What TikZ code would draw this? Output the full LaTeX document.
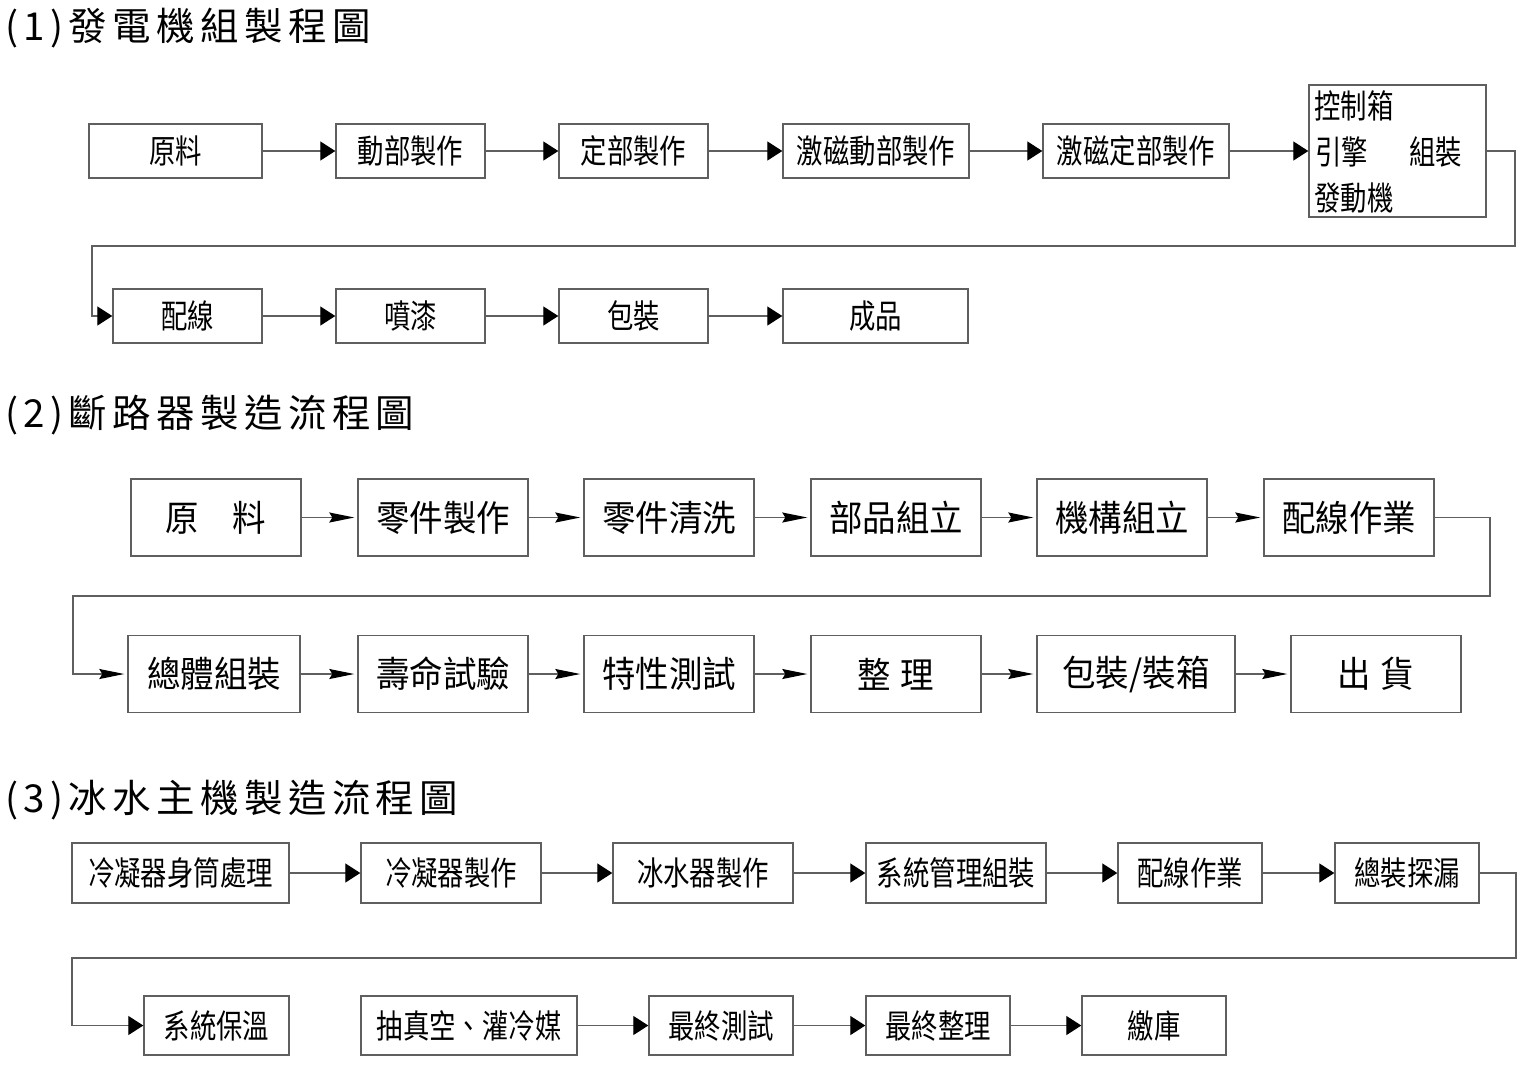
\documentclass[tikz,border=0pt]{standalone}
\usepackage{fontspec}
\usetikzlibrary{arrows.meta}
\newfontfamily\fa[FakeStretch=0.80]{Noto Sans CJK TC}
\newfontfamily\fb[FakeStretch=0.93]{Noto Sans CJK TC}
\newfontfamily\ft[LetterSpace=14]{Noto Sans CJK TC}
\definecolor{lineg}{RGB}{95,95,95}
\begin{document}
\begin{tikzpicture}[x=1pt,y=-1pt,
  box/.style={draw=lineg, line width=1.4pt, inner sep=0pt, fill=white},
  sa/.style={box, minimum height=54pt, font=\fa\fontsize{33}{36}\selectfont},
  sb/.style={box, minimum height=77pt, font=\fb\fontsize{36}{40}\selectfont},
  sc/.style={box, minimum height=60pt, font=\fa\fontsize{33}{36}\selectfont},
  plain/.style={inner sep=0pt, font=\fa\fontsize{33}{36}\selectfont},
  ttl/.style={inner sep=0pt, anchor=west, font=\ft\fontsize{38.5}{42}\selectfont},
  conn/.style={draw=lineg, line width=1.3pt},
  arrA/.style={conn, -{Triangle[length=15pt,width=19pt,fill=black,color=black]}},
  arrB/.style={conn, -{Stealth[length=25pt,width=10pt,inset=3pt,fill=black,color=black]}, shorten >=3pt}
]
\useasboundingbox[fill=white] (0,0) rectangle (1536,1080);

% ---------- (1) ----------
\node[ttl] (T1) at (5,28) {(1)發電機組製程圖};
\node[sa, minimum width=173pt] (A1) at (175.5,151) {原料};
\node[sa, minimum width=149pt] (A2) at (410.5,151) {動部製作};
\node[sa, minimum width=149pt] (A3) at (633.5,151) {定部製作};
\node[sa, minimum width=186pt] (A4) at (876,151) {激磁動部製作};
\node[sa, minimum width=186pt] (A5) at (1136,151) {激磁定部製作};
\node[box, minimum width=177pt, minimum height=132pt] (A6) at (1397.5,151) {};
\node[plain, anchor=west] (A6a) at (1314,106) {控制箱};
\node[plain, anchor=west] (A6b) at (1315,152) {引擎};
\node[plain, anchor=west] (A6c) at (1409,152) {組裝};
\node[plain, anchor=west] (A6d) at (1314,198) {發動機};

\node[sa, minimum width=149pt] (B1) at (187.5,316) {配線};
\node[sa, minimum width=149pt] (B2) at (410.5,316) {噴漆};
\node[sa, minimum width=149pt] (B3) at (633.5,316) {包裝};
\node[sa, minimum width=185pt] (B4) at (875.5,316) {成品};

\draw[arrA] (A1) -- (A2);
\draw[arrA] (A2) -- (A3);
\draw[arrA] (A3) -- (A4);
\draw[arrA] (A4) -- (A5);
\draw[arrA] (A5) -- (A6.west |- A5);
\coordinate (k1a) at (1515,246);
\coordinate (k1b) at (92,246);
\draw[arrA] (A6.east) -| (k1a) -- (k1b) |- (B1.west);
\draw[arrA] (B1) -- (B2);
\draw[arrA] (B2) -- (B3);
\draw[arrA] (B3) -- (B4);

% ---------- (2) ----------
\node[ttl] (T2) at (5,415) {(2)斷路器製造流程圖};
\node[sb, minimum width=170pt] (C1) at (216,517.5) {原　料};
\node[sb, minimum width=170pt] (C2) at (443,517.5) {零件製作};
\node[sb, minimum width=170pt] (C3) at (669,517.5) {零件清洗};
\node[sb, minimum width=170pt] (C4) at (896,517.5) {部品組立};
\node[sb, minimum width=170pt] (C5) at (1122,517.5) {機構組立};
\node[sb, minimum width=170pt] (C6) at (1349,517.5) {配線作業};

\node[sb, minimum width=172pt] (D1) at (214,674) {總體組裝};
\node[sb, minimum width=170pt] (D2) at (443,674) {壽命試驗};
\node[sb, minimum width=170pt] (D3) at (669,674) {特性測試};
\node[sb, minimum width=170pt] (D4) at (896,674) {整\hspace{10pt}理};
\node[sb, minimum width=198pt] (D5) at (1136,674) {包裝/裝箱};
\node[sb, minimum width=170pt] (D6) at (1376,674) {出\hspace{10pt}貨};

\draw[arrB] (C1) -- (C2);
\draw[arrB] (C2) -- (C3);
\draw[arrB] (C3) -- (C4);
\draw[arrB] (C4) -- (C5);
\draw[arrB] (C5) -- (C6);
\coordinate (k2a) at (1490,596);
\coordinate (k2b) at (73,596);
\draw[arrB] (C6.east) -| (k2a) -- (k2b) |- (D1.west);
\draw[arrB] (D1) -- (D2);
\draw[arrB] (D2) -- (D3);
\draw[arrB] (D3) -- (D4);
\draw[arrB] (D4) -- (D5);
\draw[arrB] (D5) -- (D6);

% ---------- (3) ----------
\node[ttl] (T3) at (5,800) {(3)冰水主機製造流程圖};
\node[sc, minimum width=217pt] (E1) at (180.5,873) {冷凝器身筒處理};
\node[sc, minimum width=180pt] (E2) at (451,873) {冷凝器製作};
\node[sc, minimum width=180pt] (E3) at (703,873) {冰水器製作};
\node[sc, minimum width=180pt] (E4) at (956,873) {系統管理組裝};
\node[sc, minimum width=144pt] (E5) at (1190,873) {配線作業};
\node[sc, minimum width=144pt] (E6) at (1407,873) {總裝探漏};

\node[sc, minimum width=145pt, minimum height=59pt] (F1) at (216.5,1025.5) {系統保溫};
\node[sc, minimum width=216pt, minimum height=59pt] (F2) at (469,1025.5) {抽真空、灌冷媒};
\node[sc, minimum width=144pt, minimum height=59pt] (F3) at (721,1025.5) {最終測試};
\node[sc, minimum width=144pt, minimum height=59pt] (F4) at (938,1025.5) {最終整理};
\node[sc, minimum width=144pt, minimum height=59pt] (F5) at (1154,1025.5) {繳庫};

\draw[arrA] (E1) -- (E2);
\draw[arrA] (E2) -- (E3);
\draw[arrA] (E3) -- (E4);
\draw[arrA] (E4) -- (E5);
\draw[arrA] (E5) -- (E6);
\coordinate (k3a) at (1516,958);
\coordinate (k3b) at (72,958);
\draw[arrA] (E6.east) -| (k3a) -- (k3b) |- (F1.west);
\draw[arrA] (F2) -- (F3);
\draw[arrA] (F3) -- (F4);
\draw[arrA] (F4) -- (F5);
\end{tikzpicture}
\end{document}
